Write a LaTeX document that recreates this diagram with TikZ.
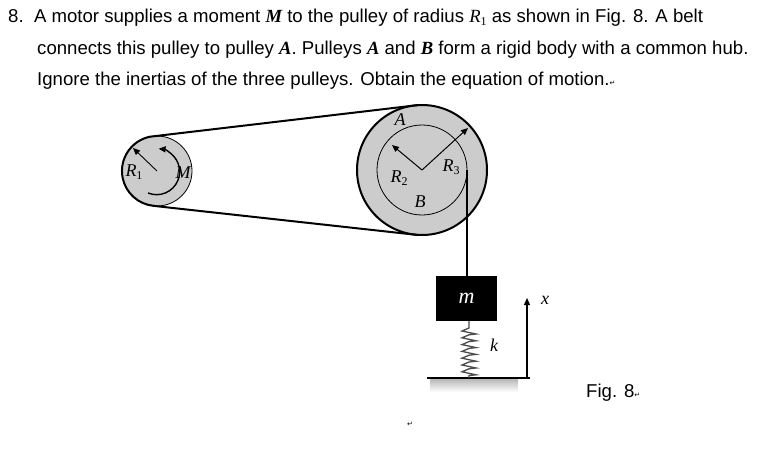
\documentclass[tikz,border=0pt]{standalone}
\usepackage{fontspec}
\setmainfont{Liberation Sans}
\newfontfamily\serf{Liberation Serif}
\newfontfamily\djv{DejaVu Sans}
\usetikzlibrary{arrows.meta}
\newcommand{\bm}[1]{{\serf\bfseries\itshape #1}}
\newcommand{\ret}{{\djv\fontsize{7}{8}\selectfont ↵}}
\newcommand{\sub}[1]{\raisebox{-3pt}{\fontsize{12}{12}\selectfont\upshape #1}}
\begin{document}
\begin{tikzpicture}[x=1pt,y=-1pt,
  txt/.style={anchor=west,inner sep=0,font=\fontsize{18.6}{20}\selectfont},
  lbl/.style={inner sep=0,font=\fontsize{18}{20}\selectfont\serf\itshape},
  arr/.style={-{Triangle[length=7pt,width=6pt]},line width=1.4pt}]
\useasboundingbox (0,0) rectangle (774,460);
\node[txt] (l1) at (8,18) {8.\ \ A motor supplies a moment \bm{M} to the pulley of radius {\serf\itshape R\sub{1}} as shown in Fig. 8. A belt};
\node[txt] (l2) at (37,50) {connects this pulley to pulley \bm{A}. Pulleys \bm{A} and \bm{B} form a rigid body with a common hub.};
\node[txt] (l3) at (37,81) {Ignore the inertias of the three pulleys. Obtain the equation of motion.\ret};
% pulleys
\fill[gray!40] (157,171) circle (35);
\draw[line width=0.8pt] (157,171) circle (35);
\draw[line width=2pt] (150,136.7) arc[start angle=-101.5,end angle=-265,radius=35];
\fill[gray!40] (422,170) circle (65);
\draw[line width=2pt] (422,170) circle (65);
\draw[line width=0.8pt] (422,170) circle (45);
% belt
\draw[line width=2pt] (150,136.7) -- (418,105.1);
\draw[line width=2pt] (153,205.8) -- (418,235);
% small pulley arrows
\coordinate (c1) at (157,171);
\draw[arr,line width=0.9pt] (c1) -- (133,148);
\draw[arr] (148,193) arc[start angle=112,end angle=-85,radius=23];
\node[lbl] (r1) at (134,172) {R\sub{1}};
\node[lbl] (m) at (183,173) {M};
% large pulley arrows
\coordinate (c2) at (422,170);
\draw[arr,line width=1pt] (c2) -- (392,145);
\draw[arr,line width=1pt] (c2) -- (468,128);
\node[lbl] (a) at (400,120) {A};
\node[lbl] (r2) at (399,178) {R\sub{2}};
\node[lbl] (r3) at (451,167) {R\sub{3}};
\node[lbl] (b) at (420,202) {B};
% mass
\node[fill=black,minimum width=61pt,minimum height=45pt,inner sep=0] (mass) at (466.5,298.5) {};
\node[lbl,text=white,font=\fontsize{22}{22}\selectfont\serf\itshape] at (mass) {m};
\draw[line width=1.6pt] (467,170) -- (mass.north -| 467,0);
% ground
\shade[top color=gray!60,bottom color=white] (430,378) rectangle (518,392);
\draw[line width=1.2pt] (427,378) -- (530,378);
% spring
\draw[gray!60!black,line width=1.3pt] (469,321) -- (469,328)
  \foreach \i in {0,...,6} { -- ++(-7,3) -- ++(14,3) -- ++(-7,0.8)} -- (469,378);
\draw[arr,line width=1.2pt] (527,378) -- (527,298);
\node[lbl] (x) at (545,300) {x};
\node[lbl] (k) at (494,345) {k};
\node[txt] (fig) at (586,393) {Fig. 8\ret};
\node[inner sep=0] (rr) at (410,424) {\ret};
\end{tikzpicture}
\end{document}
